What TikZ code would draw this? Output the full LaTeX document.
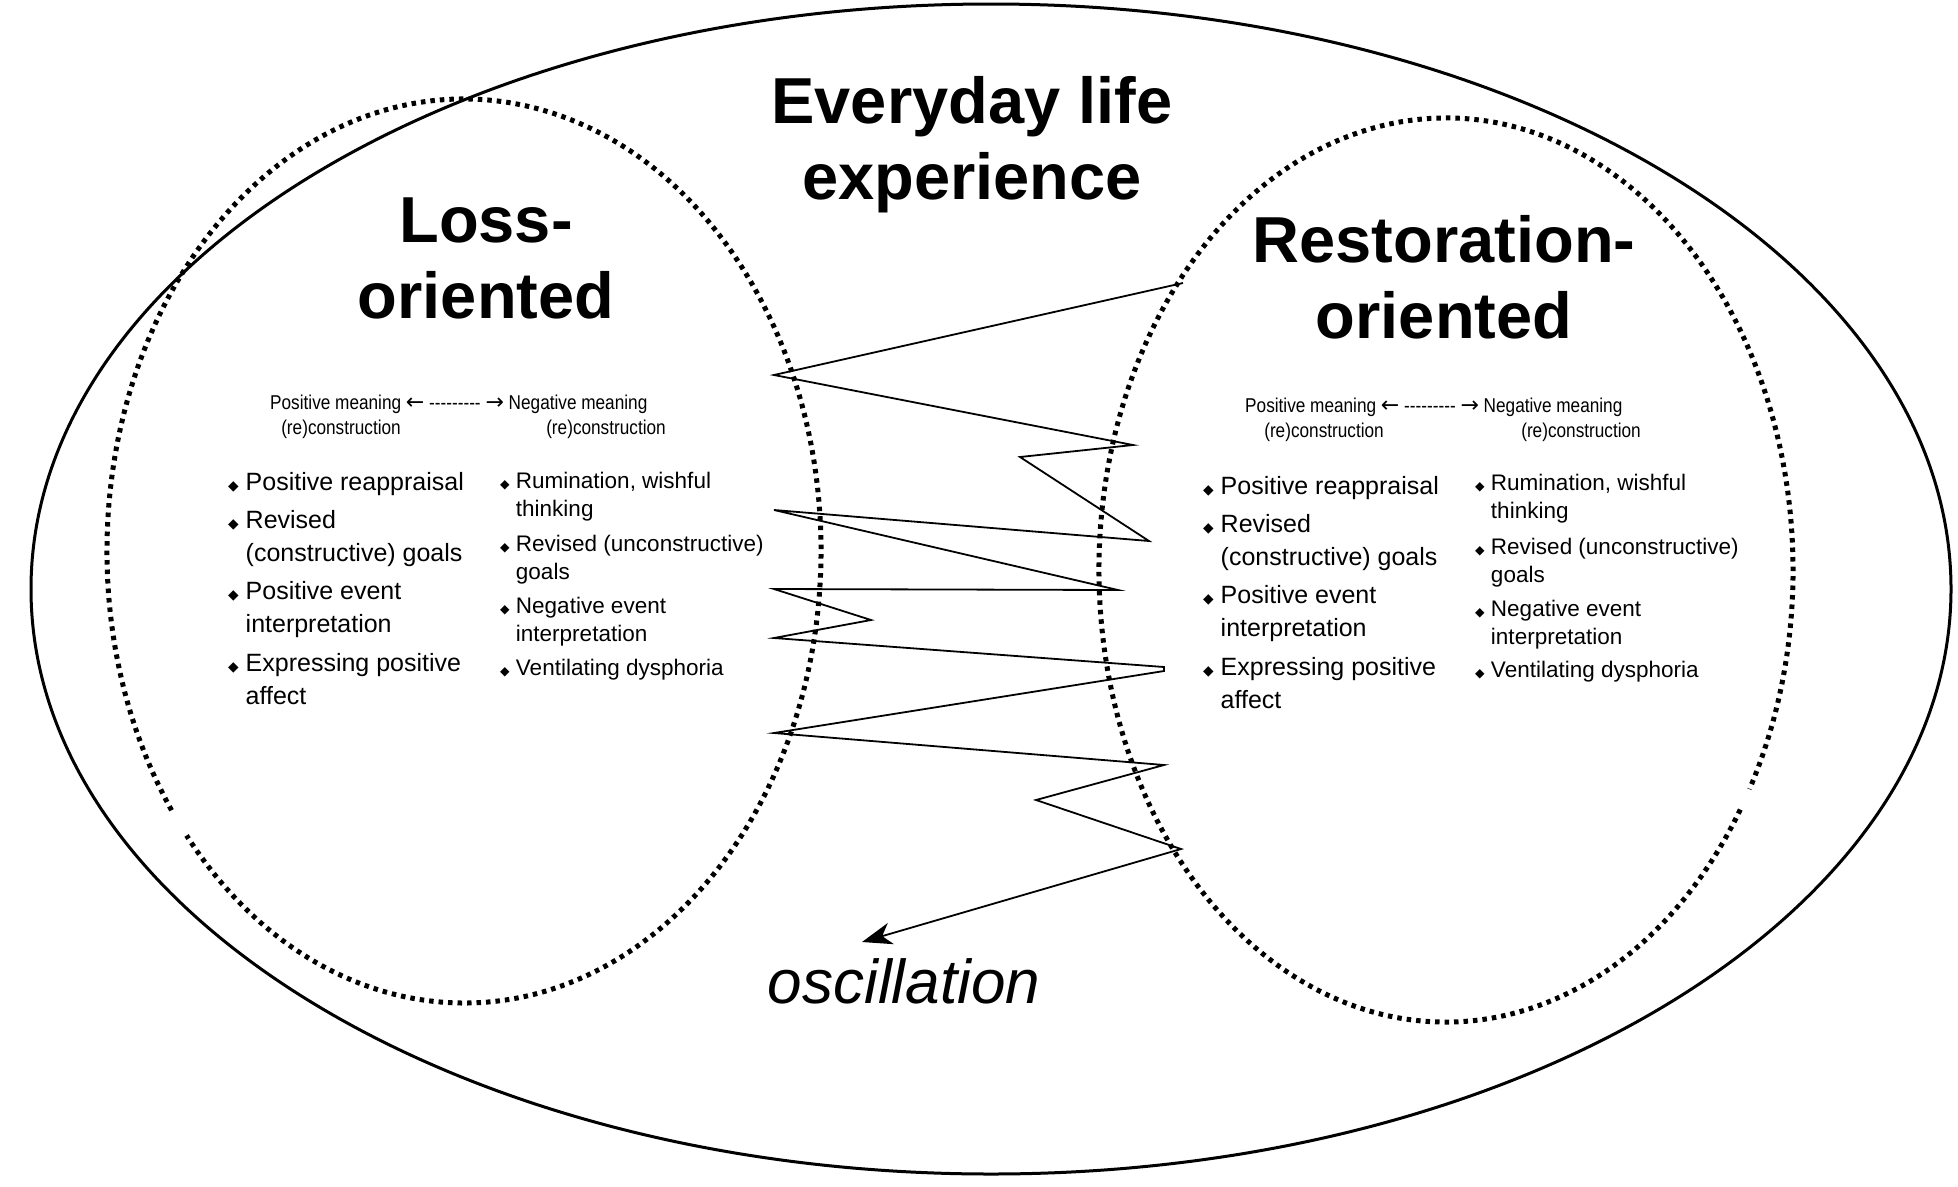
\documentclass[tikz,border=0pt]{standalone}
\usepackage{fontspec}
\setmainfont{Liberation Sans}
\newfontfamily\djv{DejaVu Sans}
\newfontfamily\narrow{Liberation Sans}[FakeStretch=0.86]
\usetikzlibrary{arrows.meta}
\newcommand\dmd{{\djv\scalebox{0.55}{◆}}}
\newcommand\lar{{\djv\scalebox{1.1}{←}}}
\newcommand\rar{{\djv\scalebox{1.1}{→}}}
\begin{document}
\begin{tikzpicture}[x=1pt,y=-1pt,
  title/.style={font=\fontsize{65}{76}\selectfont\bfseries,align=center},
  hdr/.style={font=\narrow\fontsize{20}{24}\selectfont,inner sep=0pt},
  itemL/.style={font=\fontsize{25}{33}\selectfont,inner sep=0pt,anchor=base west},
  itemR/.style={font=\fontsize{22.5}{28}\selectfont,inner sep=0pt,anchor=base west},
  dots/.style={line width=5pt,dash pattern=on 4.5pt off 5pt},
  zz/.style={line width=1.8pt,line join=miter}]
\useasboundingbox (0,0) rectangle (1958,1186);
\draw[line width=3pt] (991,589) ellipse [x radius=960,y radius=585];
% loss circle
\draw[dots] (464,551) ++(145:357 and 452) arc[start angle=145,end angle=501,x radius=357,y radius=452];
% restoration circle
\draw[dots] (1446,570) ++(32:347 and 452) arc[start angle=32,end angle=389,x radius=347,y radius=452];

\node[title] (ev) at (972,145) {Everyday life\\experience};
\node[title] (loss) at (486,258) {Loss-\\oriented};
\node[title] (rest) at (1444,277) {Restoration-\\oriented};

% left circle contents
\node[hdr,anchor=west] (lh) at (270,404) {Positive meaning \lar\ --------- \rar\ Negative meaning};
\node[hdr] (lh1) at (341,429) {(re)construction};
\node[hdr] (lh2) at (606,429) {(re)construction};
\node[itemL] (l1) at (228,490) {\dmd\ Positive reappraisal};
\node[itemL] (l2) at (228,528) {\begin{tabular}[t]{@{}l@{\ }l@{}}\dmd & Revised\\ & (constructive) goals\end{tabular}};
\node[itemL] (l3) at (228,599) {\begin{tabular}[t]{@{}l@{\ }l@{}}\dmd & Positive event\\ & interpretation\end{tabular}};
\node[itemL] (l4) at (228,671) {\begin{tabular}[t]{@{}l@{\ }l@{}}\dmd & Expressing positive\\ & affect\end{tabular}};
\node[itemR] (r1) at (500,488) {\begin{tabular}[t]{@{}l@{\ }l@{}}\dmd & Rumination, wishful\\ & thinking\end{tabular}};
\node[itemR] (r2) at (500,551) {\begin{tabular}[t]{@{}l@{\ }l@{}}\dmd & Revised (unconstructive)\\ & goals\end{tabular}};
\node[itemR] (r3) at (500,613) {\begin{tabular}[t]{@{}l@{\ }l@{}}\dmd & Negative event\\ & interpretation\end{tabular}};
\node[itemR] (r4) at (500,675) {\begin{tabular}[t]{@{}l@{\ }l@{}}\dmd & Ventilating dysphoria\end{tabular}};
% right circle contents
\node[hdr,anchor=west] (rh) at (1245,407) {Positive meaning \lar\ --------- \rar\ Negative meaning};
\node[hdr] (rh1) at (1324,432) {(re)construction};
\node[hdr] (rh2) at (1581,432) {(re)construction};
\node[itemL] (q1) at (1203,494) {\dmd\ Positive reappraisal};
\node[itemL] (q2) at (1203,532) {\begin{tabular}[t]{@{}l@{\ }l@{}}\dmd & Revised\\ & (constructive) goals\end{tabular}};
\node[itemL] (q3) at (1203,603) {\begin{tabular}[t]{@{}l@{\ }l@{}}\dmd & Positive event\\ & interpretation\end{tabular}};
\node[itemL] (q4) at (1203,675) {\begin{tabular}[t]{@{}l@{\ }l@{}}\dmd & Expressing positive\\ & affect\end{tabular}};
\node[itemR] (s1) at (1475,490) {\begin{tabular}[t]{@{}l@{\ }l@{}}\dmd & Rumination, wishful\\ & thinking\end{tabular}};
\node[itemR] (s2) at (1475,554) {\begin{tabular}[t]{@{}l@{\ }l@{}}\dmd & Revised (unconstructive)\\ & goals\end{tabular}};
\node[itemR] (s3) at (1475,616) {\begin{tabular}[t]{@{}l@{\ }l@{}}\dmd & Negative event\\ & interpretation\end{tabular}};
\node[itemR] (s4) at (1475,677) {\begin{tabular}[t]{@{}l@{\ }l@{}}\dmd & Ventilating dysphoria\end{tabular}};

% oscillation zigzag
\coordinate (z0) at (1183,283);
\coordinate (z1) at (774,375);
\coordinate (z2) at (1133,445);
\coordinate (z3) at (1020,457);
\coordinate (z4) at (1149,541);
\coordinate (z5) at (774,510);
\coordinate (z6) at (1118,590);
\coordinate (z7) at (774,589);
\coordinate (z8) at (871,620);
\coordinate (z9) at (774,638);
\coordinate (z10) at (1164,667);
\coordinate (z11) at (1164,671);
\coordinate (z12) at (774,733);
\coordinate (z13) at (1164,765);
\coordinate (z14) at (1036,800);
\coordinate (z15) at (1181,849);
\coordinate (z16) at (862,942);
\draw[zz,-{Stealth[length=30pt,width=22pt,inset=9pt]}] (z0)--(z1)--(z2)--(z3)--(z4)--(z5)--(z6)--(z7)--(z8)--(z9)--(z10)--(z11)--(z12)--(z13)--(z14)--(z15)--(z16);
\node[font=\fontsize{62}{70}\selectfont\itshape] (osc) at (904,981) {oscillation};
\end{tikzpicture}
\end{document}
